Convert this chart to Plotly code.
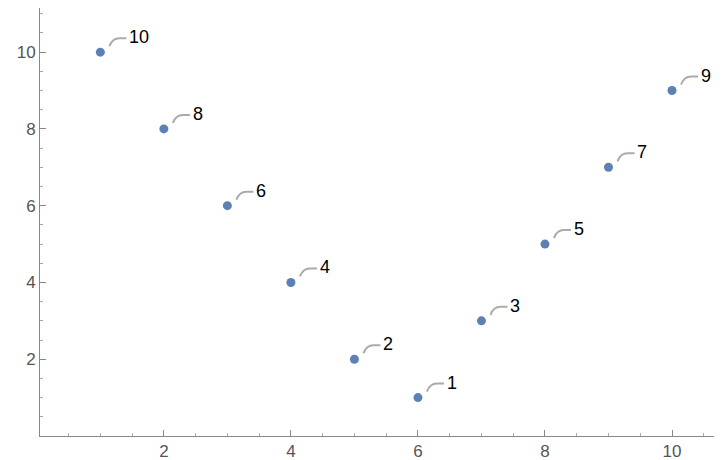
import plotly.graph_objects as go

xs = [1, 2, 3, 4, 5, 6, 7, 8, 9, 10]
ys = [10, 8, 6, 4, 2, 1, 3, 5, 7, 9]
labels = [str(v) for v in ys]
tick_vals = [2, 4, 6, 8, 10]

fig = go.Figure(go.Scatter(x=xs, y=ys, mode="markers",
                           marker=dict(color="#5E81B5", size=9)))

shapes = []
annotations = []
for x, y, lab in zip(xs, ys, labels):
    shapes.append(dict(type="path", xref="x", yref="y", xsizemode="pixel", ysizemode="pixel",
                       xanchor=x, yanchor=y, path="M 9 6 Q 12 14 19 14 L 26 14",
                       line=dict(color="#AAAAAA", width=2)))
    annotations.append(dict(x=x, y=y, text=lab, showarrow=False, xanchor="left",
                            xshift=27, yshift=15, font=dict(size=18, color="black")))

axis_style = dict(showgrid=False, zeroline=False, showline=True, linecolor="#888888",
                  ticks="inside", ticklen=6, tickcolor="#888888", tickvals=tick_vals,
                  automargin=False, tickfont=dict(size=17, color="#555555"),
                  minor=dict(ticks="inside", ticklen=3, dtick=0.5, tickcolor="#AAAAAA"))

fig.update_layout(width=722, height=460, margin=dict(l=32, r=4, t=0, b=32),
                  plot_bgcolor="white", paper_bgcolor="white", showlegend=False,
                  font=dict(family="Liberation Sans"),
                  xaxis=dict(range=[0.05, 10.85], **axis_style),
                  yaxis=dict(range=[0, 11.15], **axis_style),
                  shapes=shapes, annotations=annotations)
fig.write_html("out.html")
